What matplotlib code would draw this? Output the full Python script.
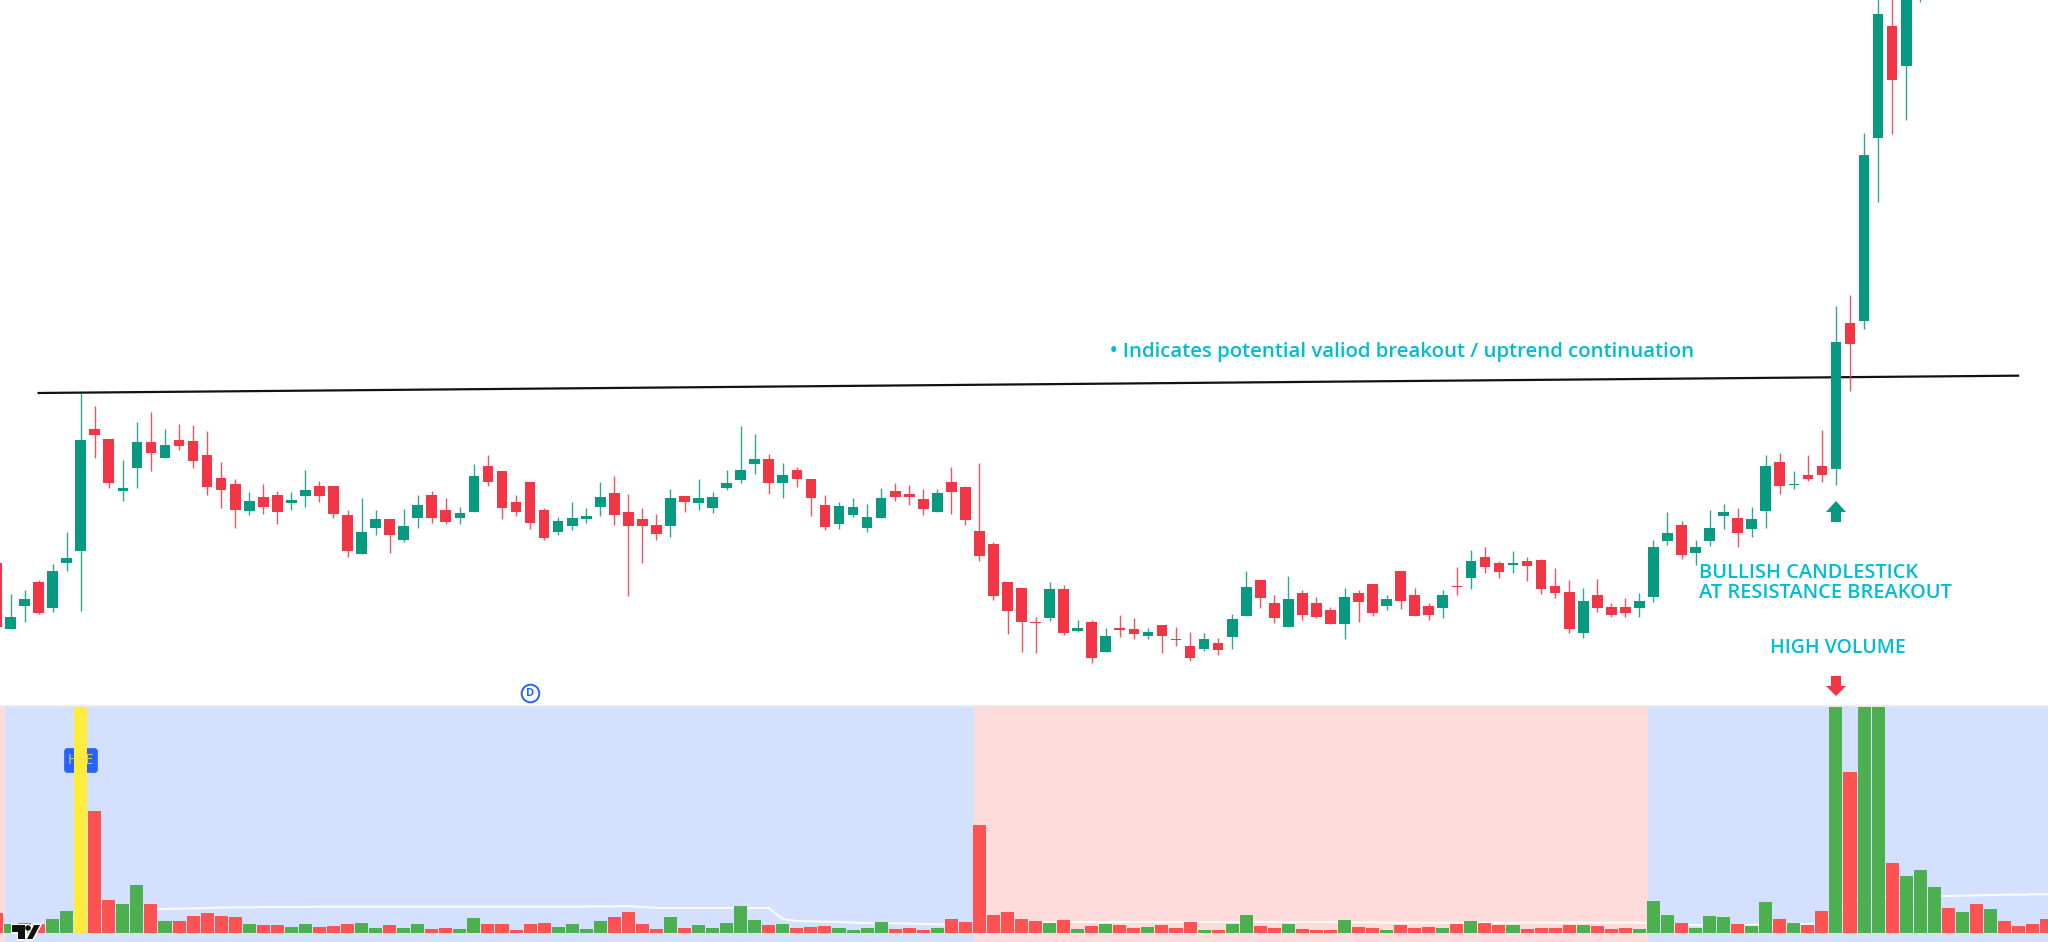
import numpy as np
import matplotlib
matplotlib.use("Agg")
import matplotlib.pyplot as plt
from matplotlib.patches import Polygon, Circle, FancyBboxPatch, Rectangle

# Candles, one value per bar, bar numbers start at -1 (cut by the left edge)
body_top = [410,
    250,302,353,387,427,780,812,783,636,775,
    775,764,780,778,735,667,647,596,610,616,
    599,630,641,641,554,503,542,542,522,585,
    616,571,560,672,701,687,593,653,571,536,
    545,551,610,622,565,542,525,607,613,605,
    610,650,690,723,723,675,690,664,585,582,
    579,548,607,627,619,602,622,653,638,508,
    469,355,336,234,333,333,217,234,191,217,
    214,203,225,183,163,183,171,242,338,359,
    290,302,322,290,271,310,322,347,302,387,
    316,282,316,342,418,429,412,412,418,420,
    341,324,296,316,278,278,296,460,500,525,
    460,517,565,545,542,701,715,648,675,701,
    1075,1132,1635,2058,2021,2240,2400]
body_bot = [220,
    212,282,262,276,412,447,795,650,628,696,
    741,727,761,716,639,631,571,568,580,565,
    591,613,611,557,447,438,517,495,480,546,
    546,534,546,565,653,577,565,531,486,503,
    523,543,579,554,523,523,497,523,593,591,
    577,636,661,707,650,650,664,607,520,528,
    556,517,545,608,610,574,565,624,540,432,
    313,268,234,231,245,200,208,126,143,211,
    197,191,191,180,126,154,149,189,251,307,
    245,219,256,248,228,228,293,262,282,296,
    253,256,276,339,367,398,384,404,402,333,
    322,212,200,276,254,260,276,308,478,435,
    441,478,551,500,512,568,642,645,664,676,
    693,1067,1137,1685,1860,1903,2180]
wick_high = [410,
    317,330,360,407,503,920,882,783,719,834,
    863,812,828,825,806,715,662,624,648,627,
    624,690,656,641,571,605,571,542,574,616,
    627,605,579,707,735,687,616,653,577,548,
    593,577,653,673,619,577,557,633,613,664,
    624,690,823,798,738,710,698,664,616,593,
    605,588,636,650,644,633,633,698,641,710,
    474,355,336,248,353,344,239,239,217,256,
    245,217,225,220,205,200,186,259,387,359,
    316,372,330,308,279,336,330,347,316,387,
    336,290,330,398,449,460,418,446,428,423,
    395,360,335,363,290,307,321,480,565,537,
    480,571,588,576,579,735,741,687,735,809,
    1182,1214,1701,2200,2200,2300,2450]
wick_low = [220,
    212,235,259,265,387,268,726,637,597,637,
    687,727,750,696,616,576,517,554,557,529,
    571,579,594,545,430,438,495,441,475,517,
    531,529,529,565,642,543,551,514,480,495,
    511,531,551,525,313,412,480,489,565,571,
    562,630,650,678,619,605,639,551,511,514,
    548,503,545,596,585,554,565,559,525,418,
    299,197,143,140,237,194,205,112,143,189,
    183,183,140,163,118,146,135,152,251,276,
    231,219,239,245,228,183,234,251,271,273,
    253,239,245,316,333,381,367,381,356,319,
    305,200,187,263,248,248,248,294,466,423,
    404,463,514,460,489,517,619,633,656,653,
    645,928,1114,1495,1698,1741,2095]

# R = down bar, G = up bar
direction = list(
    "R"
    "GGRGGGRRGG"
    "RGRRRRRGRR"
    "GGRRRGGRGG"
    "RRGGRRRRRG"
    "GGGRRRRGRG"
    "GGGGRGRRRG"
    "GGGRRRGRRR"
    "RRRRGRGRGR"
    "RGRRRGRGGR"
    "RGRRRGRRGR"
    "RRGRGRRGRR"
    "RRGRRRGGGR"
    "GGGRGGRGRR"
    "GRGGRGGGRG"
    "RGRRRR")

volume = [60,
    26,28,26,40,65,800,366,97,86,142,
    86,34,34,49,60,49,46,26,23,23,
    17,26,17,20,26,29,14,23,14,26,
    11,14,11,43,26,26,9,26,29,17,
    26,12,34,46,63,26,12,46,14,23,
    14,29,80,37,23,26,14,17,20,14,
    8,14,32,12,14,8,14,40,32,323,
    54,63,40,35,29,37,12,20,26,23,
    14,17,23,14,32,8,8,26,52,20,
    14,26,11,8,8,37,17,14,8,23,
    14,17,14,26,34,29,23,23,11,14,
    14,23,23,20,11,14,11,94,54,28,
    14,49,46,26,20,91,40,28,23,66,
    800,482,800,800,208,170,187,136,74,62,
    85,71,34,20,26,40]
volume_ma = [22,
    22,22,23,24,26,60,63,65,67,69,
    70,71,72,73,74,75,76,76,77,77,
    77,77,78,78,78,78,78,78,78,78,
    78,78,78,78,78,78,78,78,78,78,
    78,78,79,79,80,77,74,74,74,74,
    74,74,74,74,74,41,35,34,33,32,
    30,29,28,28,27,26,25,24,23,32,
    32,32,32,32,32,32,32,32,32,32,
    32,32,32,32,32,32,32,32,32,32,
    32,32,32,32,32,31,31,31,30,30,
    30,30,30,30,30,30,30,30,30,30,
    30,30,30,30,30,30,30,29,27,24,
    23,23,23,23,24,25,25,25,26,28,
    70,90,100,105,108,110,110,110,110,111,
    112,113,114,114,115,115]

# Trend line ends (bar number, price)
trend_x = [1.92, 143.05]
trend_y = [921, 973]

# Background zones of the volume panel (bar from, bar to, kind)
zones = [(-0.76, -0.4, "low"), (-0.4, 68.6, "high"), (68.6, 116.6, "low"), (116.6, 145.2, "high")]

GREEN = "#089981"
RED = "#F23645"
VOL_GREEN = "#4CAF50"
VOL_RED = "#FF5252"
CYAN = "#00BCD4"
BLUE = "#2962FF"
TEXT_FONT = ["Open Sans", "DejaVu Sans"]

W, H = 2048, 942
PANEL_TOP = 706.7

fig = plt.figure(figsize=(W / 100, H / 100), dpi=100, facecolor="white")
ax = fig.add_axes([0, 1 - PANEL_TOP / H, 1, PANEL_TOP / H])
ax_vol = fig.add_axes([0, 0, 1, 1 - PANEL_TOP / H])

xlim = (-0.75, 145.1)

# Price part
n_c = len(body_top)
x_c = np.arange(-1, n_c - 1)
cols = [GREEN if d == "G" else RED for d in direction[:n_c]]
ax.plot(trend_x, trend_y, color="#111111", lw=1.6, zorder=2, solid_capstyle="butt")
ax.vlines(x_c, wick_low, wick_high, colors=cols, lw=1.0, alpha=0.85, zorder=3)
ax.bar(x_c, np.array(body_top) - np.array(body_bot), bottom=body_bot, width=0.76,
       color=cols, linewidth=0, zorder=4)
ax.set_xlim(*xlim)
ax.set_ylim(2100 - 3 * PANEL_TOP, 2100)
ax.axis("off")

# Volume part
n_v = len(volume)
x_v = np.arange(-1, n_v - 1)
cols_v = [VOL_GREEN if d == "G" else VOL_RED for d in direction[:n_v]]
cols_v[6] = "#FFEB3B"  # highest volume bar is yellow
for a, b, kind in zones:
    ax_vol.axvspan(a, b, color="#D3E0FE" if kind == "high" else "#FEDBDB", lw=0, zorder=0)
ax_vol.plot(x_v, volume_ma, color="white", lw=1.5, alpha=0.9, zorder=2)
ax_vol.bar(x_v, volume, width=0.93, color=cols_v, linewidth=0, zorder=3)
ax_vol.set_xlim(*xlim)
ax_vol.set_ylim(-28, 678)
ax_vol.axis("off")

# Overlay in picture pixels for the drawn notes
over = fig.add_axes([0, 0, 1, 1], facecolor="none")
over.set_xlim(0, W)
over.set_ylim(H, 0)
over.axis("off")

over.plot([0, W], [706, 706], color="#E4E6EA", lw=1.2)

over.text(1110, 352, "• Indicates potential valiod breakout / uptrend continuation",
          color=CYAN, fontsize=14.65, fontweight=600, family=TEXT_FONT, va="center", ha="left")
over.text(1699, 573, "BULLISH CANDLESTICK", color=CYAN, fontsize=14.4, fontweight=600,
          family=TEXT_FONT, va="center", ha="left")
over.text(1699, 593, "AT RESISTANCE BREAKOUT", color=CYAN, fontsize=14.4, fontweight=600,
          family=TEXT_FONT, va="center", ha="left")
over.text(1770, 648, "HIGH VOLUME", color=CYAN, fontsize=14, fontweight=600,
          family=TEXT_FONT, va="center", ha="left")

# Arrows
cx = 1836
over.add_patch(Polygon([(cx, 501), (cx + 10, 512), (cx + 5, 512), (cx + 5, 522),
                        (cx - 5, 522), (cx - 5, 512), (cx - 10, 512)], color=GREEN, lw=0))
over.add_patch(Polygon([(cx, 696), (cx + 10, 686), (cx + 5, 686), (cx + 5, 676),
                        (cx - 5, 676), (cx - 5, 686), (cx - 10, 686)], color=RED, lw=0))

# D marker
over.add_patch(Circle((530.5, 693.5), 8.8, facecolor="white", edgecolor=BLUE, lw=1.4, zorder=6))
over.text(530.5, 693.5, "D", color=BLUE, fontsize=8, fontweight="bold", family=TEXT_FONT,
          ha="center", va="center", zorder=7)

# Blue tag, the yellow bar runs over it
over.add_patch(FancyBboxPatch((64.5, 748.5), 33, 24, boxstyle="round,pad=0,rounding_size=3",
                              facecolor=BLUE, edgecolor=BLUE, lw=0.5, zorder=3))
over.text(81, 760, "H  E", color="#C9CC66", fontsize=10, family=TEXT_FONT,
          ha="center", va="center", zorder=4)
over.add_patch(Rectangle((73.7, PANEL_TOP), 13.3, 932.7 - PANEL_TOP, facecolor="#FFEB3B",
                         lw=0, zorder=5))

# TradingView logo, white halo first and black shape on top
t_shape = [(12, 925), (25, 925), (25, 939), (18, 939), (18, 931.5), (12, 931.5)]
slash = [(34, 925), (40, 925), (32.5, 939), (27, 939)]
for shape in (t_shape, slash):
    over.add_patch(Polygon(shape, facecolor="white", edgecolor="white", lw=2.2, zorder=8))
over.add_patch(Circle((28, 928), 4, facecolor="white", lw=0, zorder=8))
for shape in (t_shape, slash):
    over.add_patch(Polygon(shape, facecolor="#111111", lw=0, zorder=9))
over.add_patch(Circle((28, 928), 2.8, facecolor="#111111", lw=0, zorder=9))

fig.savefig("out.png", dpi=100, facecolor="white")
